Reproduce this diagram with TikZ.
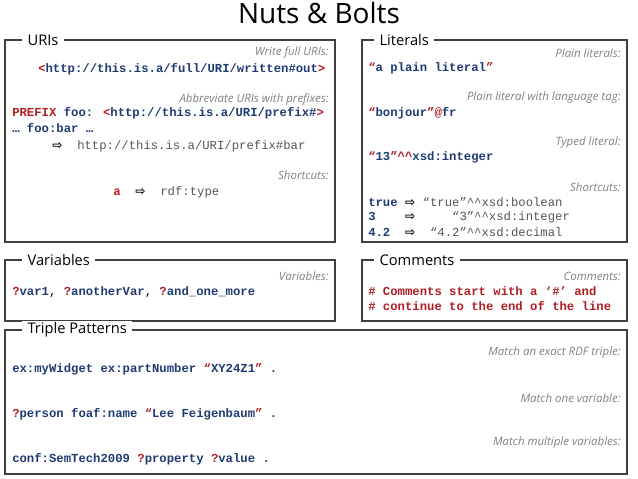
\documentclass[tikz,border=0pt]{standalone}
\usepackage{fontspec}
\setmainfont{Open Sans}
\newfontfamily\code{Liberation Mono}
\newfontfamily\sym{DejaVu Sans}
\definecolor{cb}{HTML}{1F3B73}
\definecolor{cr}{HTML}{B01E23}
\definecolor{cg}{HTML}{808080}
\definecolor{ct}{HTML}{555555}
\newcommand{\B}[1]{\textcolor{cb}{\bfseries #1}}
\newcommand{\R}[1]{\textcolor{cr}{\bfseries #1}}
\newcommand{\G}[1]{\textcolor{ct}{#1}}
\newcommand{\arr}{{\sym\bfseries\textcolor{black}{⇨}}}
\begin{document}
\begin{tikzpicture}[x=0.75pt,y=-0.75pt,
  panel/.style={draw=black!75, line width=0.8pt},
  ptitle/.style={fill=white, anchor=west, font=\fontsize{11}{13}\selectfont, inner xsep=4pt, inner ysep=1pt},
  lab/.style={anchor=east, font=\fontsize{8.6}{10}\selectfont\itshape, text=cg, inner sep=0pt},
  cl/.style={anchor=west, font=\code\fontsize{9.2}{10}\selectfont, inner sep=0pt}]
\useasboundingbox (0,0) rectangle (638,478);
\node (title) at (319,13) {\fontsize{21}{24}\selectfont Nuts \& Bolts};
% panels
\draw[panel] (5,40) rectangle (335,242);
\draw[panel] (362,40) rectangle (627,242);
\draw[panel] (5,260) rectangle (335,321);
\draw[panel] (362,260) rectangle (627,321);
\draw[panel] (5,330) rectangle (627,474);
\node[ptitle] (t1) at (22,40) {URIs};
\node[ptitle] (t2) at (374,40) {Literals};
\node[ptitle] (t3) at (22,260) {Variables};
\node[ptitle] (t4) at (374,260) {Comments};
\node[ptitle] (t5) at (22,330) {Triple Patterns};
% URIs
\node[lab] (u1) at (329,52) {Write full URIs:};
\node[cl] (u2) at (38,69) {\R{<}\B{http://this.is.a/full/URI/written\#out}\R{>}};
\node[lab] (u3) at (329,99) {Abbreviate URIs with prefixes:};
\node[cl] (u4) at (12,113) {\R{PREFIX} \B{foo: }\R{<}\B{http://this.is.a/URI/prefix\#}\R{>}};
\node[cl] (u5) at (12,128) {\B{… foo:bar …}};
\node[cl] (u6) at (52,146) {\arr\ \ \G{http://this.is.a/URI/prefix\#bar}};
\node[lab] (u7) at (329,175) {Shortcuts:};
\node[cl] (u8) at (113,192) {\R{a}\ \ \arr\ \ \G{rdf:type}};
% Literals
\node[lab] (l1) at (621,53) {Plain literals:};
\node[cl] (l2) at (368,68) {\R{“}\B{a plain literal}\R{”}};
\node[lab] (l3) at (621,98) {Plain literal with language tag:};
\node[cl] (l4) at (368,113) {\R{“}\B{bonjour}\R{”@}\B{fr}};
\node[lab] (l5) at (621,143) {Typed literal:};
\node[cl] (l6) at (368,157) {\R{“}\B{13}\R{”\textasciicircum\textasciicircum}\B{xsd:integer}};
\node[lab] (l7) at (621,187) {Shortcuts:};
\node[cl] (l8) at (368,202) {\B{true} \arr\ \G{“true”\textasciicircum\textasciicircum xsd:boolean}};
\node[cl] (l9) at (368,217) {\B{3}\ \ \ \ \arr\ \ \ \ \ \G{“3”\textasciicircum\textasciicircum xsd:integer}};
\node[cl] (l10) at (368,232) {\B{4.2}\ \ \arr\ \ \G{“4.2”\textasciicircum\textasciicircum xsd:decimal}};
% Variables
\node[lab] (v1) at (329,276) {Variables:};
\node[cl] (v2) at (12,292) {\R{?}\B{var1}, \R{?}\B{anotherVar}, \R{?}\B{and\_one\_more}};
% Comments
\node[lab] (c1) at (621,276) {Comments:};
\node[cl] (c2) at (368,291) {\R{\# Comments start with a ‘\#’ and}};
\node[cl] (c3) at (368,306) {\R{\# continue to the end of the line}};
% Triple patterns
\node[lab] (p1) at (621,353) {Match an exact RDF triple:};
\node[cl] (p2) at (12,369) {\B{ex:myWidget ex:partNumber }\R{“}\B{XY24Z1}\R{”} \B{.}};
\node[lab] (p3) at (621,398) {Match one variable:};
\node[cl] (p4) at (12,414) {\R{?}\B{person foaf:name }\R{“}\B{Lee Feigenbaum}\R{”} \B{.}};
\node[lab] (p5) at (621,443) {Match multiple variables:};
\node[cl] (p6) at (12,459) {\B{conf:SemTech2009 }\R{?}\B{property }\R{?}\B{value .}};
\end{tikzpicture}
\end{document}
